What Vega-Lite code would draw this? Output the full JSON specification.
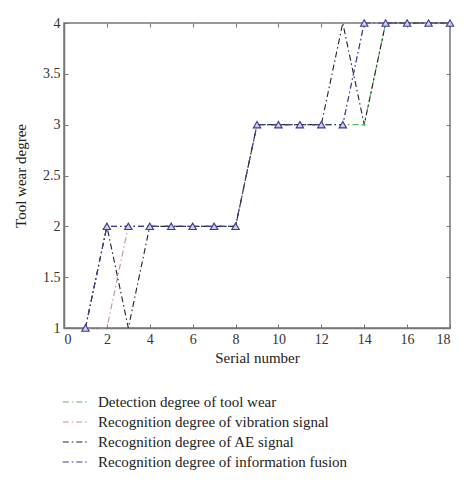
{
  "$schema": "https://vega.github.io/schema/vega-lite/v6.json",
  "width": 386,
  "height": 305,
  "autosize": {"type": "none"},
  "padding": {"left": 64, "top": 23, "right": 24, "bottom": 161},
  "background": "white",
  "config": {
    "font": "Liberation Serif",
    "view": {"stroke": "#777", "strokeWidth": 1.5},
    "axis": {
      "labelFont": "Liberation Serif", "labelFontSize": 14, "labelColor": "#333",
      "titleFont": "Liberation Serif", "titleFontSize": 15, "titleFontWeight": "normal", "titleColor": "#222",
      "domainColor": "#777", "domainWidth": 1.5, "tickColor": "#777", "tickSize": -4, "grid": false
    },
    "legend": {
      "labelFont": "Liberation Serif", "labelFontSize": 15, "labelColor": "#222", "labelLimit": 0
    }
  },
  "data": {"values": [
    {"serial": 1, "degree": 1, "series": "Detection degree of tool wear"},
    {"serial": 2, "degree": 2, "series": "Detection degree of tool wear"},
    {"serial": 3, "degree": 2, "series": "Detection degree of tool wear"},
    {"serial": 4, "degree": 2, "series": "Detection degree of tool wear"},
    {"serial": 5, "degree": 2, "series": "Detection degree of tool wear"},
    {"serial": 6, "degree": 2, "series": "Detection degree of tool wear"},
    {"serial": 7, "degree": 2, "series": "Detection degree of tool wear"},
    {"serial": 8, "degree": 2, "series": "Detection degree of tool wear"},
    {"serial": 9, "degree": 3, "series": "Detection degree of tool wear"},
    {"serial": 10, "degree": 3, "series": "Detection degree of tool wear"},
    {"serial": 11, "degree": 3, "series": "Detection degree of tool wear"},
    {"serial": 12, "degree": 3, "series": "Detection degree of tool wear"},
    {"serial": 13, "degree": 3, "series": "Detection degree of tool wear"},
    {"serial": 14, "degree": 3, "series": "Detection degree of tool wear"},
    {"serial": 15, "degree": 4, "series": "Detection degree of tool wear"},
    {"serial": 16, "degree": 4, "series": "Detection degree of tool wear"},
    {"serial": 17, "degree": 4, "series": "Detection degree of tool wear"},
    {"serial": 18, "degree": 4, "series": "Detection degree of tool wear"},
    {"serial": 1, "degree": 1, "series": "Recognition degree of vibration signal"},
    {"serial": 2, "degree": 1, "series": "Recognition degree of vibration signal"},
    {"serial": 3, "degree": 2, "series": "Recognition degree of vibration signal"},
    {"serial": 4, "degree": 2, "series": "Recognition degree of vibration signal"},
    {"serial": 5, "degree": 2, "series": "Recognition degree of vibration signal"},
    {"serial": 6, "degree": 2, "series": "Recognition degree of vibration signal"},
    {"serial": 7, "degree": 2, "series": "Recognition degree of vibration signal"},
    {"serial": 8, "degree": 2, "series": "Recognition degree of vibration signal"},
    {"serial": 9, "degree": 3, "series": "Recognition degree of vibration signal"},
    {"serial": 10, "degree": 3, "series": "Recognition degree of vibration signal"},
    {"serial": 11, "degree": 3, "series": "Recognition degree of vibration signal"},
    {"serial": 12, "degree": 3, "series": "Recognition degree of vibration signal"},
    {"serial": 13, "degree": 3, "series": "Recognition degree of vibration signal"},
    {"serial": 14, "degree": 4, "series": "Recognition degree of vibration signal"},
    {"serial": 15, "degree": 4, "series": "Recognition degree of vibration signal"},
    {"serial": 16, "degree": 4, "series": "Recognition degree of vibration signal"},
    {"serial": 17, "degree": 4, "series": "Recognition degree of vibration signal"},
    {"serial": 18, "degree": 4, "series": "Recognition degree of vibration signal"},
    {"serial": 1, "degree": 1, "series": "Recognition degree of AE signal"},
    {"serial": 2, "degree": 2, "series": "Recognition degree of AE signal"},
    {"serial": 3, "degree": 1, "series": "Recognition degree of AE signal"},
    {"serial": 4, "degree": 2, "series": "Recognition degree of AE signal"},
    {"serial": 5, "degree": 2, "series": "Recognition degree of AE signal"},
    {"serial": 6, "degree": 2, "series": "Recognition degree of AE signal"},
    {"serial": 7, "degree": 2, "series": "Recognition degree of AE signal"},
    {"serial": 8, "degree": 2, "series": "Recognition degree of AE signal"},
    {"serial": 9, "degree": 3, "series": "Recognition degree of AE signal"},
    {"serial": 10, "degree": 3, "series": "Recognition degree of AE signal"},
    {"serial": 11, "degree": 3, "series": "Recognition degree of AE signal"},
    {"serial": 12, "degree": 3, "series": "Recognition degree of AE signal"},
    {"serial": 13, "degree": 4, "series": "Recognition degree of AE signal"},
    {"serial": 14, "degree": 3, "series": "Recognition degree of AE signal"},
    {"serial": 15, "degree": 4, "series": "Recognition degree of AE signal"},
    {"serial": 16, "degree": 4, "series": "Recognition degree of AE signal"},
    {"serial": 17, "degree": 4, "series": "Recognition degree of AE signal"},
    {"serial": 18, "degree": 4, "series": "Recognition degree of AE signal"},
    {"serial": 1, "degree": 1, "series": "Recognition degree of information fusion"},
    {"serial": 2, "degree": 2, "series": "Recognition degree of information fusion"},
    {"serial": 3, "degree": 2, "series": "Recognition degree of information fusion"},
    {"serial": 4, "degree": 2, "series": "Recognition degree of information fusion"},
    {"serial": 5, "degree": 2, "series": "Recognition degree of information fusion"},
    {"serial": 6, "degree": 2, "series": "Recognition degree of information fusion"},
    {"serial": 7, "degree": 2, "series": "Recognition degree of information fusion"},
    {"serial": 8, "degree": 2, "series": "Recognition degree of information fusion"},
    {"serial": 9, "degree": 3, "series": "Recognition degree of information fusion"},
    {"serial": 10, "degree": 3, "series": "Recognition degree of information fusion"},
    {"serial": 11, "degree": 3, "series": "Recognition degree of information fusion"},
    {"serial": 12, "degree": 3, "series": "Recognition degree of information fusion"},
    {"serial": 13, "degree": 3, "series": "Recognition degree of information fusion"},
    {"serial": 14, "degree": 4, "series": "Recognition degree of information fusion"},
    {"serial": 15, "degree": 4, "series": "Recognition degree of information fusion"},
    {"serial": 16, "degree": 4, "series": "Recognition degree of information fusion"},
    {"serial": 17, "degree": 4, "series": "Recognition degree of information fusion"},
    {"serial": 18, "degree": 4, "series": "Recognition degree of information fusion"}
  ]},
  "resolve": {"axis": {"x": "independent", "y": "independent"}},
  "layer": [
    {
      "mark": {"type": "line", "strokeWidth": 1.1},
      "encoding": {
        "x": {"field": "serial", "type": "quantitative",
          "scale": {"domain": [0, 18], "nice": false, "zero": false},
          "axis": {"title": "Serial number", "values": [0,2,4,6,8,10,12,14,16,18], "labelPadding": 8, "titlePadding": 4}},
        "y": {"field": "degree", "type": "quantitative",
          "scale": {"domain": [1, 4], "nice": false, "zero": false},
          "axis": {"title": "Tool wear degree", "values": [1,1.5,2,2.5,3,3.5,4], "format": "~g", "labelPadding": 8, "titlePadding": 14}},
        "color": {"field": "series", "type": "nominal",
          "scale": {
            "domain": ["Detection degree of tool wear", "Recognition degree of vibration signal", "Recognition degree of AE signal", "Recognition degree of information fusion"],
            "range": ["#5cb85c", "#c98bb0", "#222222", "#3b3b8f"]},
          "legend": {"title": null, "orient": "none", "legendX": -2, "legendY": 369, "symbolType": "stroke", "symbolSize": 700, "symbolStrokeWidth": 1.2, "rowPadding": 0, "clipHeight": 20, "labelOffset": 8}},
        "strokeDash": {"field": "series", "type": "nominal",
          "scale": {
            "domain": ["Detection degree of tool wear", "Recognition degree of vibration signal", "Recognition degree of AE signal", "Recognition degree of information fusion"],
            "range": [[6,3,1.5,3], [6,3,1.5,3], [6,3,1.5,3], [6,3,1.5,3]]},
          "legend": {"title": null, "orient": "none", "legendX": -2, "legendY": 369, "symbolType": "stroke", "symbolSize": 700, "rowPadding": 0, "clipHeight": 20, "labelOffset": 8}},
        "order": {"field": "serial"}
      }
    },
    {
      "transform": [{"filter": "datum.series === 'Detection degree of tool wear'"}],
      "mark": {"type": "point", "shape": "circle", "filled": true, "size": 8, "color": "#5cb85c", "opacity": 1},
      "encoding": {
        "x": {"field": "serial", "type": "quantitative", "axis": {"orient": "top", "title": null, "labels": false, "domain": false, "values": [0,2,4,6,8,10,12,14,16,18]}},
        "y": {"field": "degree", "type": "quantitative", "axis": {"orient": "right", "title": null, "labels": false, "domain": false, "values": [1,1.5,2,2.5,3,3.5,4]}}
      }
    },
    {
      "transform": [{"filter": "datum.series === 'Recognition degree of information fusion'"}],
      "mark": {"type": "point", "shape": "triangle-up", "size": 55, "fill": "#cfcff2", "stroke": "#3b3b8f", "strokeWidth": 1.1, "opacity": 1, "fillOpacity": 1},
      "encoding": {
        "x": {"field": "serial", "type": "quantitative", "axis": null},
        "y": {"field": "degree", "type": "quantitative", "axis": null}
      }
    }
  ]
}
